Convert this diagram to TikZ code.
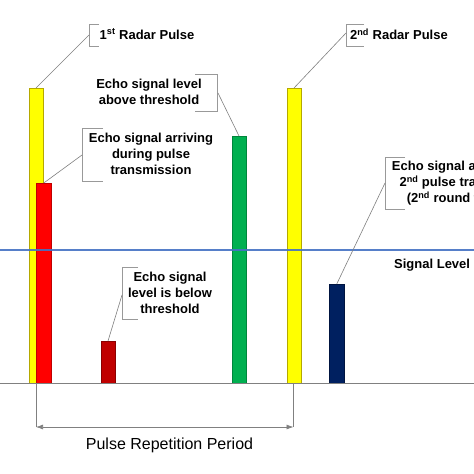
\documentclass[tikz,border=0pt]{standalone}
\usepackage{fontspec}
\setmainfont{Liberation Sans}
\usetikzlibrary{arrows.meta}
\definecolor{yel}{HTML}{FFFF00}
\definecolor{yeld}{HTML}{B5A800}
\definecolor{redf}{HTML}{FF0000}
\definecolor{redd}{HTML}{C00000}
\definecolor{grn}{HTML}{00B050}
\definecolor{grnd}{HTML}{00853C}
\definecolor{nvy}{HTML}{002060}
\definecolor{nvyd}{HTML}{001440}
\definecolor{dred}{HTML}{C00000}
\definecolor{dredd}{HTML}{8A0000}
\definecolor{thr}{HTML}{4472C4}
\definecolor{gl}{HTML}{808080}
\tikzset{
  bar/.style={rectangle, inner sep=0pt, outer sep=0pt, anchor=south west, line width=0.6pt},
  lbl/.style={font=\fontsize{13}{16}\selectfont\bfseries, align=center, inner sep=0pt},
  leader/.style={draw=gl, line width=0.6pt},
  brk/.style={draw=gl!80, line width=0.8pt},
  dim/.style={draw=gl, line width=0.7pt},
}
\begin{document}
\begin{tikzpicture}[x=1pt,y=-1pt]
\useasboundingbox (0,0) rectangle (474,474);
\clip (0,0) rectangle (474,474);
\fill[white] (0,0) rectangle (474,474);
% bars
\node[bar, fill=yel, draw=yeld, minimum width=14pt, minimum height=295pt] (p1) at (29,383) {};
\node[bar, fill=redf, draw=redd, minimum width=14.5pt, minimum height=200pt] (r) at (36.5,383) {};
\node[bar, fill=dred, draw=dredd, minimum width=14pt, minimum height=42pt] (dr) at (101,383) {};
\node[bar, fill=grn, draw=grnd, minimum width=14pt, minimum height=247pt] (g) at (232,383) {};
\node[bar, fill=yel, draw=yeld, minimum width=14pt, minimum height=295pt] (p2) at (287,383) {};
\node[bar, fill=nvy, draw=nvyd, minimum width=14.5pt, minimum height=99pt] (n) at (329.5,383) {};
% threshold and ground lines
\coordinate (tl) at (0,250);
\coordinate (tr) at (474,250);
\draw[thr, line width=2pt, opacity=0.9] (tl) -- (tr);
\coordinate (gl0) at (0,383.5);
\coordinate (gl1) at (474,383.5);
\draw[gl, line width=0.8pt] (gl0) -- (gl1);
\node[lbl, anchor=base west] (sl) at (394,268) {Signal Level};
% labels
\node[lbl] (t1) at (147,34) {1\textsuperscript{st} Radar Pulse};
\node[lbl] (t2) at (149,91.5) {Echo signal level\\above threshold};
\node[lbl] (t3) at (151,154) {Echo signal arriving\\during pulse\\transmission};
\node[lbl] (t4) at (399,34) {2\textsuperscript{nd} Radar Pulse};
\node[lbl] (t5) at (470,183) {Echo signal arriving after\\2\textsuperscript{nd} pulse transmission\\(2\textsuperscript{nd} round trip echo)};
\node[lbl] (t6) at (170,293) {Echo signal\\level is below\\threshold};
% brackets
\draw[brk] (99,24) -- (89,24) -- (89,46) -- (99,46);
\draw[brk] (195,74) -- (217,74) -- (217,111) -- (195,111);
\draw[brk] (103,128) -- (82,128) -- (82,181) -- (103,181);
\draw[brk] (364,24) -- (346,24) -- (346,46) -- (364,46);
\draw[brk] (405,157) -- (385,157) -- (385,209) -- (405,209);
\draw[brk] (138,267) -- (122,267) -- (122,319) -- (138,319);
% leader anchor points
\coordinate (c1) at (89,35);
\coordinate (c2) at (218,93);
\coordinate (c3) at (82,155);
\coordinate (c4) at (346,33);
\coordinate (c5) at (385,183);
\coordinate (c6) at (122,295);
\draw[leader] (c1) -- (p1.north);
\draw[leader] (c2) -- (g.north);
\draw[leader] (c3) -- (r.north);
\draw[leader] (c4) -- (p2.north);
\draw[leader] (c5) -- (n.north);
\draw[leader] (c6) -- (dr.north);
% dimension
\coordinate (da0) at (36,384);
\coordinate (da1) at (36,427);
\coordinate (db0) at (293.5,384);
\coordinate (db1) at (293.5,427);
\draw[dim] (da0) -- (da1);
\draw[dim] (db0) -- (db1);
\draw[dim, {Latex[length=7pt,width=5pt]}-{Latex[length=7pt,width=5pt]}] (da1) -- (db1);
\node[font=\fontsize{16}{19}\selectfont, anchor=base, inner sep=0pt] (prp) at (169.5,449) {Pulse Repetition Period};
\end{tikzpicture}
\end{document}
